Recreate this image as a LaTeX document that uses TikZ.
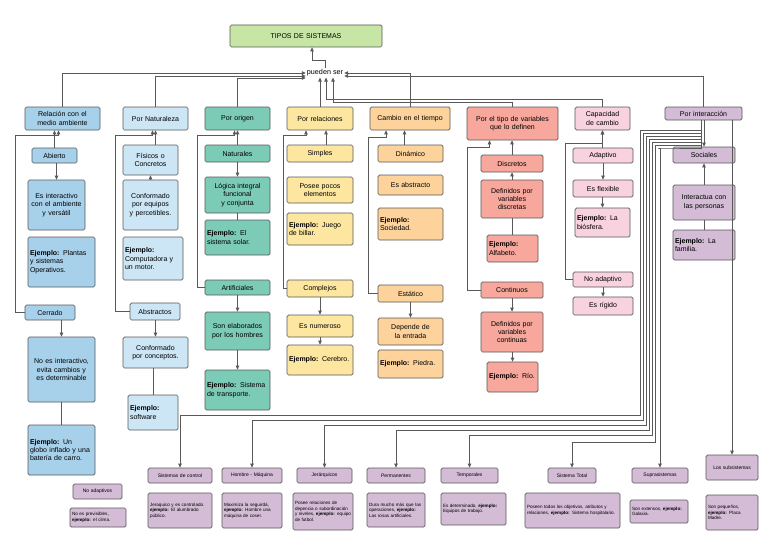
\documentclass[tikz,border=0pt]{standalone}
\usepackage{fontspec}
\setmainfont{Liberation Sans}
\usetikzlibrary{arrows.meta}
\definecolor{cA}{HTML}{A7D0EA}
\definecolor{cB}{HTML}{CDE6F5}
\definecolor{cC}{HTML}{7CCBB6}
\definecolor{cD}{HTML}{FDE7A0}
\definecolor{cE}{HTML}{FDD39B}
\definecolor{cF}{HTML}{F7A79C}
\definecolor{cG}{HTML}{F9D2DF}
\definecolor{cH}{HTML}{D4BCD6}
\definecolor{cT}{HTML}{C7E6A6}
\hyphenpenalty=10000
\exhyphenpenalty=10000
\newcommand\bx[7]{%
 \pgfmathsetmacro\bw{#5-#3}\pgfmathsetmacro\bh{#6-#4}\pgfmathsetmacro\tw{#5-#3-4}%
 \node[box,#2,minimum width=\bw pt,minimum height=\bh pt,text width=\tw pt] (#1) at ({(#3+#5)/2},{(#4+#6)/2}) {#7};}
\begin{document}
\begin{tikzpicture}[x=1pt,y=-1pt,
 box/.style={draw=black!65,line width=0.7pt,rounded corners=1.5pt,align=center,inner sep=2pt,font=\fontsize{7}{8.4}\selectfont,execute at begin node={\hyphenpenalty=10000\relax}},
 ex/.style={align=left},
 sm/.style={font=\fontsize{4.6}{5.6}\selectfont,align=left},
 sc/.style={font=\fontsize{5}{6}\selectfont},
 arr/.style={draw=black!65,line width=0.8pt,-{Triangle[length=4pt,width=3.5pt]}},
 ln/.style={draw=black!65,line width=0.8pt}]
\fill[white] (0,0) rectangle (768,543);
\useasboundingbox (0,0) rectangle (768,543);
\bx{tit}{fill=cT}{230}{25}{382}{47}{TIPOS DE SISTEMAS}
\node[font=\fontsize{7.2}{8.6}\selectfont,inner sep=1pt] (ps) at (325,73) {pueden ser};
% col1
\bx{rel}{fill=cA}{25}{107}{100}{130}{Relación con el medio ambiente}
\bx{abi}{fill=cA}{32}{148}{77}{163}{Abierto}
\bx{abi1}{fill=cA}{28}{180}{85}{230}{Es interactivo con el ambiente y versátil}
\bx{abi2}{fill=cA,ex}{28}{237}{95}{287}{\textbf{Ejemplo:} Plantas y sistemas Operativos.}
\bx{cer}{fill=cA}{25}{305}{75}{320}{Cerrado}
\bx{cer1}{fill=cA}{28}{337}{95}{402}{No es interactivo, evita cambios y es determinable}
\bx{cer2}{fill=cA,ex}{28}{425}{95}{475}{\textbf{Ejemplo:} Un globo inflado y una batería de carro.}
\bx{noa}{fill=cH,sc}{73}{484}{122}{499}{No adaptivos}
\bx{noa1}{fill=cH,sm}{70}{508}{126}{527}{No es previsibles, \textbf{ejemplo:} el clima.}
% col2
\bx{nat}{fill=cB}{123}{107}{188}{130}{Por Naturaleza}
\bx{fis}{fill=cB}{123}{145}{178}{175}{Físicos o Concretos}
\bx{fis1}{fill=cB}{123}{180}{178}{230}{Conformado por equipos y percetibles.}
\bx{fis2}{fill=cB,ex}{123}{237}{183}{280}{\textbf{Ejemplo:} Computadora y un motor.}
\bx{abs}{fill=cB}{130}{303}{180}{320}{Abstractos}
\bx{abs1}{fill=cB}{123}{337}{188}{368}{Conformado por conceptos.}
\bx{abs2}{fill=cB,ex}{128}{395}{178}{430}{\textbf{Ejemplo:} software}
% col3
\bx{ori}{fill=cC}{205}{107}{270}{130}{Por origen}
\bx{nt}{fill=cC}{205}{145}{270}{162}{Naturales}
\bx{nt1}{fill=cC}{205}{177}{270}{213}{Lógica integral funcional y conjunta}
\bx{nt2}{fill=cC,ex}{205}{220}{270}{255}{\textbf{Ejemplo:} El sistema solar.}
\bx{art}{fill=cC}{205}{280}{270}{295}{Artificiales}
\bx{art1}{fill=cC}{205}{312}{270}{350}{Son elaborados por los hombres}
\bx{art2}{fill=cC,ex}{205}{370}{270}{410}{\textbf{Ejemplo:} Sistema de transporte.}
% col4
\bx{prl}{fill=cD}{287}{107}{353}{130}{Por relaciones}
\bx{sim}{fill=cD}{287}{145}{353}{162}{Simples}
\bx{sim1}{fill=cD}{287}{177}{353}{203}{Posee pocos elementos}
\bx{sim2}{fill=cD,ex}{287}{213}{353}{245}{\textbf{Ejemplo:} Juego de billar.}
\bx{com}{fill=cD}{287}{280}{353}{297}{Complejos}
\bx{com1}{fill=cD}{287}{315}{353}{337}{Es numeroso}
\bx{com2}{fill=cD,ex}{287}{345}{353}{375}{\textbf{Ejemplo:} Cerebro.}
% col5
\bx{cam}{fill=cE}{370}{107}{450}{130}{Cambio en el tiempo}
\bx{din}{fill=cE}{378}{145}{443}{162}{Dinámico}
\bx{din1}{fill=cE}{378}{175}{443}{195}{Es abstracto}
\bx{din2}{fill=cE,ex}{378}{208}{443}{240}{\textbf{Ejemplo:} Sociedad.}
\bx{est}{fill=cE}{378}{285}{443}{302}{Estático}
\bx{est1}{fill=cE}{378}{318}{443}{345}{Depende de la entrada}
\bx{est2}{fill=cE,ex}{378}{350}{443}{378}{\textbf{Ejemplo:} Piedra.}
% col6
\bx{var}{fill=cF}{467}{107}{558}{140}{Por el tipo de variables que lo definen}
\bx{dis}{fill=cF}{481}{155}{543}{172}{Discretos}
\bx{dis1}{fill=cF}{481}{180}{543}{218}{Definidos por variables discretas}
\bx{dis2}{fill=cF,ex}{487}{235}{538}{262}{\textbf{Ejemplo:} Alfabeto.}
\bx{con}{fill=cF}{481}{282}{543}{298}{Continuos}
\bx{con1}{fill=cF}{481}{312}{543}{352}{Definidos por variables continuas}
\bx{con2}{fill=cF,ex}{487}{362}{538}{392}{\textbf{Ejemplo:} Río.}
% col7
\bx{cap}{fill=cG}{575}{107}{630}{130}{Capacidad de cambio}
\bx{ada}{fill=cG}{573}{148}{633}{163}{Adaptivo}
\bx{ada1}{fill=cG}{573}{180}{633}{197}{Es flexible}
\bx{ada2}{fill=cG,ex}{575}{208}{630}{237}{\textbf{Ejemplo:} La biósfera.}
\bx{nad}{fill=cG}{573}{272}{633}{287}{No adaptivo}
\bx{nad1}{fill=cG}{573}{297}{633}{315}{Es rígido}
% col8
\bx{pi}{fill=cH}{665}{107}{742}{120}{Por interacción}
\bx{soc}{fill=cH}{673}{147}{735}{163}{Sociales}
\bx{soc1}{fill=cH}{673}{185}{735}{220}{Interactua con las personas}
\bx{soc2}{fill=cH,ex}{673}{230}{735}{260}{\textbf{Ejemplo:} La familia.}
% bottom
\bx{b1}{fill=cH,sc}{148}{468}{212}{483}{Sistemas de control}
\bx{b2}{fill=cH,sc}{222}{468}{282}{483}{Hombre - Máquina}
\bx{b3}{fill=cH,sc}{297}{468}{352}{483}{Jerárquicos}
\bx{b4}{fill=cH,sc}{367}{468}{425}{483}{Permanentes}
\bx{b5}{fill=cH,sc}{441}{468}{498}{483}{Temporales}
\bx{b6}{fill=cH,sc}{548}{468}{596}{483}{Sistema Total}
\bx{b7}{fill=cH,sc}{632}{468}{688}{483}{Suprasistemas}
\bx{b8}{fill=cH,sc}{706}{455}{758}{480}{Los subsistemas}
\bx{d1}{fill=cH,sm}{148}{493}{212}{528}{Jeraquico y es controlado. \textbf{ejemplo:} El alumbrado público.}
\bx{d2}{fill=cH,sm}{222}{493}{282}{528}{Maximiza la seguirdá, \textbf{ejemplo:} Hombre una máquina de coser.}
\bx{d3}{fill=cH,sm}{293}{493}{353}{530}{Posee relaciones de depencia o subordinación y niveles, \textbf{ejemplo:} equipo de futbol.}
\bx{d4}{fill=cH,sm}{367}{493}{425}{527}{Dura mucho más que las operaciones, \textbf{ejemplo:} Las rosas artificiales.}
\bx{d5}{fill=cH,sm}{441}{493}{506}{525}{Es determinado, \textbf{ejemplo:} Equipos de trabajo.}
\bx{d6}{fill=cH,sm}{525}{493}{620}{528}{Poseen todos los objetivos, atributos y relaciones, \textbf{ejemplo:} Sistema hospitalario.}
\bx{d7}{fill=cH,sm}{630}{500}{688}{523}{Son extensos, \textbf{ejemplo:} Galaxia.}
\bx{d8}{fill=cH,sm}{706}{495}{758}{530}{Son pequeños, \textbf{ejemplo:} Placa Madre.}
% top connectors
\draw[arr] (ps.north) -- ++(0,-8) -| ([xshift=6pt]tit.south);
\draw[arr] (rel.north) |- (ps.west);
\draw[arr] (nat.north) |- ([yshift=-3pt]ps.west);
\draw[arr] (ori.north) |- ([yshift=-5pt]ps.west);
\draw[arr] (cam.north) |- (ps.east);
\draw[arr] (pi.north) |- ([yshift=-3pt]ps.east);
\draw[arr] (prl.north) -- (prl.north |- ps.south);
\draw[arr] (cap.north) |- ([xshift=1pt,yshift=-22pt]ps.south) -- ([xshift=1pt]ps.south);
\draw[arr] (var.north) |- ([xshift=8pt,yshift=-25pt]ps.south) -- ([xshift=8pt]ps.south);
% column connectors
\draw[arr] (abi.north) -- (abi.north |- rel.south);
\draw[arr] (abi.south -| abi1.north) -- (abi1.north);
\draw[arr] (cer.west) -| (15,135) -| ([xshift=-4pt]rel.south);
\draw[arr] (cer.south -| cer1.north) -- (cer1.north);
\draw[ln] (cer1.south) -- (cer2.north);
\draw[arr] (fis.north -| nat.south) -- (nat.south);
\draw[arr] (fis1.north -| fis.south) -- (fis.south);
\draw[arr] (abs.west) -| (115,135) -| ([xshift=-3pt]nat.south);
\draw[arr] (abs.south -| abs1.north) -- (abs1.north);
\draw[ln] (abs1.south -| abs2.north) -- (abs2.north);
\draw[arr] (nt.north) -- (ori.south);
\draw[arr] (nt.south) -- (nt1.north);
\draw[ln] (nt1.south) -- (nt2.north);
\draw[arr] (art.west) -| (197,135) -| ([xshift=-3pt]ori.south);
\draw[arr] (art.south) -- (art1.north);
\draw[arr] (art1.south) -- (art2.north);
\draw[arr] ([xshift=6pt]sim.north) -- ([xshift=6pt]prl.south);
\draw[arr] (com.west) -| (283,135) -| ([xshift=-14pt]prl.south);
\draw[arr] (com.south) -- (com1.north);
\draw[arr] (com1.south) -- (com2.north);
\draw[arr] ([xshift=-6pt]din.north) -- ([xshift=-6pt]din.north |- cam.south);
\draw[arr] (est.west) -| (368,137) -| ([xshift=-24pt]cam.south);
\draw[arr] (est.south) -- (est1.north);
\draw[arr] (dis.north) -- (dis.north |- var.south);
\draw[arr] (dis1.north) -- (dis.south);
\draw[ln] (dis1.south -| dis2.north) -- (dis2.north);
\draw[arr] (con.west) -| (467,147) -| ([xshift=-23pt]var.south);
\draw[arr] (con.south) -- (con1.north);
\draw[arr] (con1.south -| con2.north) -- (con2.north);
\draw[arr] (ada.north -| cap.south) -- (cap.south);
\draw[arr] (ada.south) -- (ada1.north);
\draw[arr] (ada1.south -| ada2.north) -- (ada2.north);
\draw[arr] (nad.west) -| (565,143) -| (cap.south);
\draw[arr] (nad.south) -- (nad1.north);
\draw[arr] (pi.south -| soc.north) -- (soc.north);
\draw[arr] (soc1.north) -- (soc.south);
\draw[ln] (soc1.south) -- (soc2.north);
% interaction connectors
\draw[arr] ([xshift=-2pt]pi.south) |- (640,130) |- (180,415) -- (b1.north);
\draw[arr] ([xshift=-2pt]pi.south) |- (643,133) |- (252,420) -- (b2.north);
\draw[arr] ([xshift=-2pt]pi.south) |- (646,136) |- (324.5,425) -- (b3.north);
\draw[arr] ([xshift=-2pt]pi.south) |- (649,139) |- (396,430) -- (b4.north);
\draw[arr] ([xshift=-2pt]pi.south) |- (652,142) |- (469.5,435) -- (b5.north);
\draw[arr] ([xshift=-2pt]pi.south) |- (655,145) |- (572,442) -- (b6.north);
\draw[arr] ([xshift=-2pt]pi.south) |- (658,148) -| (b7.north);
\draw[arr] (pi.south -| b8.north) -- (b8.north);
\end{tikzpicture}
\end{document}
